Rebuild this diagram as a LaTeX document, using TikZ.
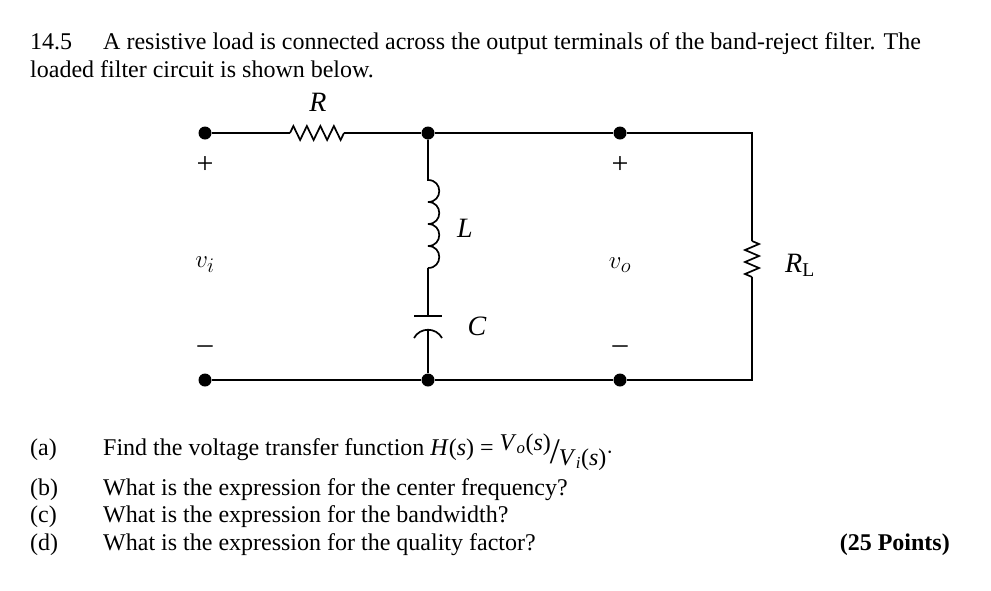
\documentclass[tikz,border=0pt]{standalone}
\usepackage{fontspec}
\setmainfont{Liberation Serif}
\usetikzlibrary{decorations.pathmorphing}
\begin{document}
\begin{tikzpicture}[x=1pt,y=-1pt,
  w/.style={line width=1.7pt},
  dot/.style={circle,fill=black,minimum size=13pt,inner sep=0pt},
  txt/.style={anchor=base west,inner sep=0pt,font=\fontsize{24}{28}\selectfont},
  lab/.style={inner sep=0pt,font=\fontsize{30}{32}\selectfont}]
\useasboundingbox (0,0) rectangle (991,590);
\node[txt] (n1) at (30,49) {14.5};
\node[txt] (t1) at (103,49) {A resistive load is connected across the output terminals of the band-reject filter. The};
\node[txt] (t2) at (30,77) {loaded filter circuit is shown below.};
% nodes
\node[dot] (a) at (205,133) {};
\node[dot] (b) at (428,133) {};
\node[dot] (c) at (620,133) {};
\node[dot] (d) at (205,380) {};
\node[dot] (e) at (428,380) {};
\node[dot] (f) at (620,380) {};
\coordinate (tr) at (752,133);
\coordinate (br) at (752,380);
\coordinate (r1) at (290,133);
\coordinate (r2) at (344,133);
\coordinate (l1) at (428,180);
\coordinate (l2) at (428,268);
\coordinate (c1) at (428,316);
\coordinate (q1) at (752,241);
\coordinate (q2) at (752,277);
\draw[w] (a) -- (r1);
\draw[w,decorate,decoration={zigzag,segment length=13.5pt,amplitude=7pt}] (r1) -- (r2);
\draw[w] (r2) -- (b) -- (c) -- (tr) -- (q1);
\draw[w,decorate,decoration={zigzag,segment length=12pt,amplitude=7pt}] (q1) -- (q2);
\draw[w] (q2) -- (br) -- (f) -- (e) -- (d);
\draw[w] (b) -- (l1)
  .. controls (443,180) and (443,202) .. (428,202)
  .. controls (443,202) and (443,224) .. (428,224)
  .. controls (443,224) and (443,246) .. (428,246)
  .. controls (443,246) and (443,268) .. (l2);
\draw[w] (l2) -- (c1);
\draw[w] (414,316) -- (442,316);
\draw[w] (414,338) .. controls (420,327) and (436,327) .. (442,338);
\draw[w] (428,329) -- (e);
\node[lab,font=\itshape\fontsize{28}{30}\selectfont] (R) at (318,102) {R};
\node[lab,font=\itshape\fontsize{28}{30}\selectfont] (L) at (465,228) {L};
\node[lab,font=\itshape\fontsize{28}{30}\selectfont] (C) at (477,326) {C};
\node[lab,font=\itshape\fontsize{28}{30}\selectfont] (RL) at (800,265) {R\textsubscript{\upshape L}};
\node[lab] (vi) at (205,265) {$v_i$};
\node[lab] (vo) at (620,265) {$v_o$};
\node[lab] (p1) at (205,165) {+};
\node[lab] (p2) at (620,165) {+};
\node[lab] (m1) at (205,350) {--};
\node[lab] (m2) at (620,350) {--};
% questions
\node[txt] (qa) at (30,455) {(a)};
\node[txt] (qat) at (103,455) {Find the voltage transfer function \textit{H}(\textit{s}) = \raisebox{5pt}{\textit{V}\textsubscript{\textit{o}}(\textit{s})}\kern-1pt\raisebox{-8pt}{\fontsize{36}{36}\selectfont/}\kern-1pt\raisebox{-10pt}{\textit{V}\textsubscript{\textit{i}}(\textit{s})}\raisebox{-3pt}{$\cdot$}};
\node[txt] (qb) at (30,495) {(b)};
\node[txt] (qbt) at (103,495) {What is the expression for the center frequency?};
\node[txt] (qc) at (30,522) {(c)};
\node[txt] (qct) at (103,522) {What is the expression for the bandwidth?};
\node[txt] (qd) at (30,550) {(d)};
\node[txt] (qdt) at (103,550) {What is the expression for the quality factor?};
\node[txt,anchor=base east,font=\bfseries\fontsize{24}{28}\selectfont] (pts) at (950,550) {(25 Points)};
\end{tikzpicture}
\end{document}
